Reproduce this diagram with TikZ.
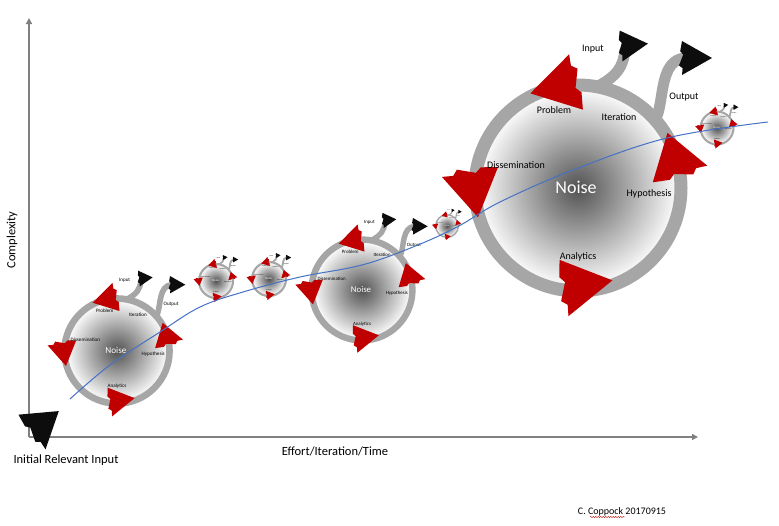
\documentclass[tikz,border=0pt]{standalone}
\usepackage{fontspec}
\setmainfont{Carlito}
\usetikzlibrary{arrows.meta,decorations.pathmorphing}
\definecolor{ringgray}{RGB}{166,166,166}
\definecolor{headred}{RGB}{192,0,0}
\definecolor{headblack}{RGB}{13,13,13}
\definecolor{axisgray}{RGB}{128,128,128}
\definecolor{trendblue}{RGB}{68,114,196}
\tikzset{
	ring/.style={draw=ringgray},
	lbl/.style={font=\fontsize{10}{12}\selectfont, inner sep=0pt, transform shape},
	noiselbl/.style={font=\fontsize{18}{20}\selectfont, text=white, inner sep=0pt, transform shape},
	axis/.style={draw=axisgray, line width=2pt, -{Triangle[length=6pt,width=6pt]}},
	axislbl/.style={font=\fontsize{12.5}{14}\selectfont, inner sep=0pt}
}
% #1 back, #2 angle, #3 length, #4 width, #5 colour
\newcommand{\headat}[5]{%
	\fill[#5, shift={#1}, rotate=#2] (#3,0) -- (0,0.5*#4) -- (0.02*#3,0.3*#4) -- (-0.1*#3,0.22*#4) -- (0.04*#3,-0.1*#4) -- (-0.06*#3,-0.2*#4) -- (0,-0.5*#4) -- cycle;}
% #1 name, #2 centre, #3 scale
\newcommand{\cycleat}[3]{%
	\begin{scope}[shift={#2}, scale=#3]
		\shade[inner color=black!68, outer color=black!3] (0,0) circle (97);
		\draw[ring, line width=#3*11pt] (22,-103) .. controls (38,-112) and (45,-120) .. (47,-138);
		\draw[ring, line width=#3*11pt] (79,-72) .. controls (86,-90) and (82,-128) .. (107,-130);
		\draw[ring, line width=#3*13pt] (0,0) circle (103);
		\headat{(43,-142)}{5}{27}{31}{headblack}
		\headat{(104,-130)}{0}{30}{34}{headblack}
		\headat{(-2,-106)}{194}{47}{57}{headred}
		\headat{(-108,-16)}{-80}{46}{57}{headred}
		\headat{(-14,100)}{9}{49}{57}{headred}
		\headat{(102,-14)}{107}{43}{57}{headred}
		\node[lbl] (#1-in) at (15,-139) {Input};
		\node[lbl] (#1-out) at (106,-91) {Output};
		\node[lbl] (#1-prob) at (-24,-78) {Problem};
		\node[lbl] (#1-iter) at (41,-71) {Iteration};
		\node[lbl] (#1-diss) at (-62,-23) {Dissemination};
		\node[noiselbl] (#1-noise) at (-2,-1) {Noise};
		\node[lbl] (#1-hyp) at (71,6) {Hypothesis};
		\node[lbl] (#1-ana) at (0,69) {Analytics};
	\end{scope}}

\begin{document}
\begin{tikzpicture}[x=1pt, y=-1pt]
	\useasboundingbox (0,0) rectangle (779,525);
	\coordinate (origin) at (29,437);
	\coordinate (ytop) at (29,18);
	\coordinate (xend) at (698,437);
	\draw[axis] (origin) -- (ytop);
	\draw[axis] (origin) -- (xend);
	\headat{(32,432)}{38}{34}{44}{headblack}
	\node[axislbl, rotate=90] (cplx) at (12,240) {Complexity};
	\node[axislbl] (effort) at (335,451) {Effort/Iteration/Time};
	\node[axislbl] (initial) at (66,460) {Initial Relevant Input};
	\node[font=\fontsize{10}{12}\selectfont, inner sep=0pt] (sig) at (622,512) {C. Coppock 20170915};
	\coordinate (sqa) at (590,517);
	\coordinate (sqb) at (625,517);
	\draw[headred, line width=0.4pt, decorate, decoration={snake, amplitude=0.6pt, segment length=2.5pt}] (sqa) -- (sqb);
	
	\cycleat{c1}{(117,351)}{0.51}
	\cycleat{c2}{(216,281)}{0.165}
	\cycleat{c3}{(269,279)}{0.165}
	\cycleat{c4}{(362,290)}{0.49}
	\cycleat{c5}{(447,226)}{0.11}
	\cycleat{c6}{(578,188)}{1}
	\cycleat{c7}{(717,128)}{0.16}
	
	\draw[trendblue, line width=1pt] plot[smooth, tension=0.6] coordinates {(70,399) (110,365) (160,332) (200,307) (243,292) (300,277) (362,265) (413,247) (457,227) (500,202) (573,170) (667,138) (768,122)};
\end{tikzpicture}
\end{document}
